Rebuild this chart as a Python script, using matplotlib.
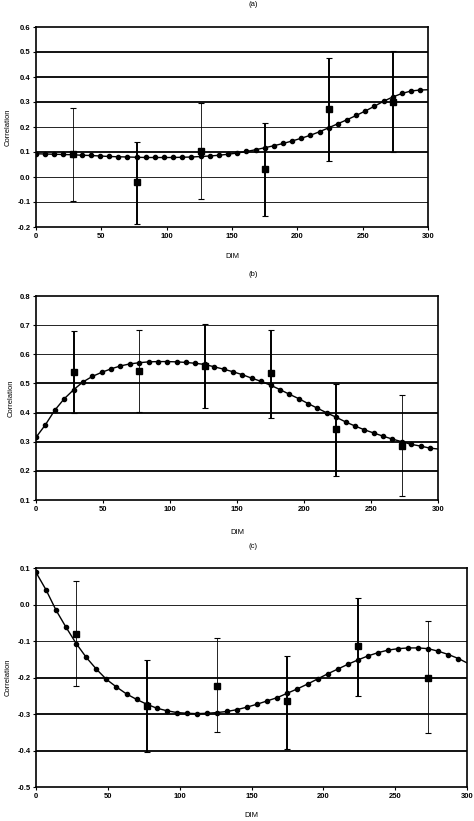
import matplotlib
matplotlib.use("Agg")
import matplotlib.pyplot as plt
import numpy as np

plt.rcParams['font.family'] = ['Liberation Sans', 'DejaVu Sans']
plt.rcParams['font.size'] = 5.5

fit_x = list(range(0, 295, 7)) + [300]
fit_a = [0.093,0.092,0.091,0.090,0.089,0.087,0.086,0.084,0.082,0.081,0.080,0.079,0.078,0.078,0.078,0.078,0.079,0.080,0.082,0.084,0.087,0.091,0.096,0.102,0.109,0.117,0.125,0.134,0.144,0.155,0.167,0.181,0.197,0.213,0.229,0.246,0.264,0.283,0.303,0.320,0.334,0.344,0.348,0.349]
fit_b = [0.315,0.358,0.408,0.447,0.478,0.505,0.524,0.538,0.550,0.560,0.567,0.571,0.574,0.575,0.575,0.574,0.572,0.569,0.565,0.557,0.549,0.540,0.530,0.518,0.507,0.494,0.479,0.463,0.448,0.431,0.415,0.399,0.384,0.368,0.354,0.341,0.330,0.319,0.309,0.300,0.291,0.285,0.278,0.275]
fit_c = [0.088,0.040,-0.016,-0.063,-0.107,-0.145,-0.177,-0.205,-0.226,-0.245,-0.260,-0.273,-0.284,-0.291,-0.296,-0.298,-0.299,-0.298,-0.296,-0.293,-0.288,-0.281,-0.273,-0.264,-0.255,-0.243,-0.231,-0.218,-0.204,-0.190,-0.177,-0.164,-0.152,-0.141,-0.132,-0.125,-0.121,-0.119,-0.119,-0.121,-0.128,-0.137,-0.148,-0.160]

obs_x = [28, 77, 126, 175, 224, 273]
obs_a = [0.093, -0.02, 0.105, 0.033, 0.27, 0.30]
lo_a = [-0.095, -0.19, -0.09, -0.155, 0.065, 0.098]
hi_a = [0.275, 0.14, 0.295, 0.215, 0.475, 0.505]
obs_b = [0.54, 0.542, 0.56, 0.535, 0.342, 0.285]
lo_b = [0.40, 0.403, 0.415, 0.38, 0.183, 0.113]
hi_b = [0.68, 0.683, 0.705, 0.685, 0.498, 0.46]
obs_c = [-0.08, -0.278, -0.222, -0.265, -0.115, -0.2]
lo_c = [-0.222, -0.405, -0.348, -0.395, -0.25, -0.352]
hi_c = [0.065, -0.153, -0.093, -0.14, 0.017, -0.045]

W = 474; H = 821
fig = plt.figure(figsize=(W/100, H/100), dpi=100)

panels = [
    dict(title='(a)', fit=fit_a, obs=obs_a, lo=lo_a, hi=hi_a, ylim=(-0.2, 0.6),
         yt=np.arange(-0.2, 0.61, 0.1), thickgrid=[0.1, 0.3, 0.4, 0.5],
         ebw=[0.6, 1.4, 0.6, 1.4, 1.4, 1.4], box=(36, 27, 428, 227), ty=5, xl=256),
    dict(title='(b)', fit=fit_b, obs=obs_b, lo=lo_b, hi=hi_b, ylim=(0.1, 0.8),
         yt=np.arange(0.1, 0.81, 0.1), thickgrid=[0.2, 0.3, 0.4, 0.5],
         ebw=[1.4, 0.6, 1.4, 1.4, 1.4, 0.6], box=(36, 296, 438, 500), ty=275, xl=532),
    dict(title='(c)', fit=fit_c, obs=obs_c, lo=lo_c, hi=hi_c, ylim=(-0.5, 0.1),
         yt=np.arange(-0.5, 0.11, 0.1), thickgrid=[-0.2, -0.3, -0.4],
         ebw=[0.6, 1.4, 0.6, 1.4, 1.4, 0.6], box=(36, 568, 467, 787), ty=546, xl=815),
]

for p in panels:
    x0, y0, x1, y1 = p['box']
    yt = [round(v, 1) + 0.0 for v in p['yt']]
    ax = fig.add_axes([x0/W, 1-y1/H, (x1-x0)/W, (y1-y0)/H])
    ax.set_xlim(0, 300)
    ax.set_ylim(*p['ylim'])
    for v in yt[1:-1]:
        thick = any(abs(v-t) < 1e-6 for t in p['thickgrid'])
        ax.axhline(v, color='black', lw=1.3 if thick else 0.6, zorder=0)
    ax.plot(fit_x, p['fit'], color='black', lw=1.0, zorder=2)
    ax.plot(fit_x[:-1], p['fit'][:-1], 'o', color='black', ms=3, zorder=3)
    for i, xv in enumerate(obs_x):
        ax.errorbar([xv], [p['obs'][i]],
                    yerr=[[p['obs'][i]-p['lo'][i]], [p['hi'][i]-p['obs'][i]]],
                    fmt='s', color='black', ms=4, elinewidth=p['ebw'][i],
                    capsize=2, capthick=0.8, zorder=4)
    ax.set_yticks(yt)
    ax.set_yticklabels([f'{abs(v):.1f}' if abs(v) < 1e-9 else f'{v:.1f}' for v in yt], fontweight='bold')
    ax.set_xticks(range(0, 301, 50))
    ax.set_xticklabels([str(v) for v in range(0, 301, 50)], fontweight='bold')
    ax.tick_params(length=2, width=0.8, pad=2)
    for s in ax.spines.values():
        s.set_linewidth(1.2)
    ax.set_ylabel('Correlation')
    fig.text((x0+x1)/2/W, 1-p['xl']/H, 'DIM', ha='center', va='center')
    fig.text(253/W, 1-p['ty']/H, p['title'], ha='center', va='center')

fig.savefig('out.png', dpi=100)
